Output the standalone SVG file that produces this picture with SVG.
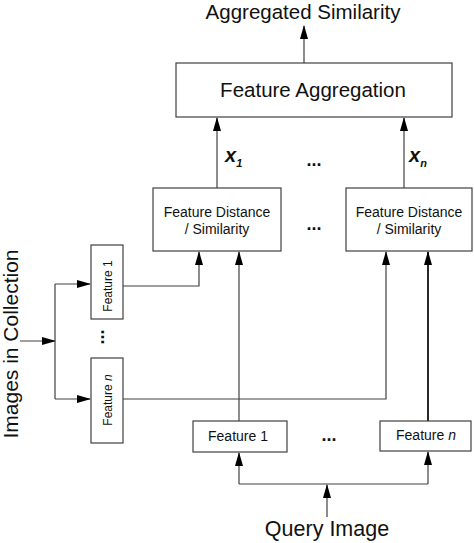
<svg xmlns="http://www.w3.org/2000/svg" width="474" height="543" viewBox="0 0 474 543">
<defs>
<marker id="ah" markerWidth="14" markerHeight="10" refX="13" refY="4" orient="auto" markerUnits="userSpaceOnUse">
<path d="M0,0 L14,4 L0,8 Z" fill="#000"/>
</marker>
<style>
.box{fill:#fff;stroke:#404040;stroke-width:1.2}
.ln{fill:none;stroke:#404040;stroke-width:1.2}
.ar{fill:none;stroke:#404040;stroke-width:1.2;marker-end:url(#ah)}
text{font-family:"Liberation Sans",Arial,sans-serif;fill:#111}
.s{font-size:14px}
.r{font-size:12px}
.m{font-size:20.5px}
.l{font-size:21.5px}
.c{font-size:21px}
.x{font-size:20px;font-weight:bold;font-style:italic}
.d{font-size:18px;font-weight:bold}
</style>
</defs>
<rect width="474" height="543" fill="#fff"/>
<g id="connectors">
<line class="ar" x1="304" y1="63" x2="304" y2="26"/>
<line class="ar" x1="217" y1="188" x2="217" y2="118"/>
<line class="ar" x1="404" y1="188" x2="404" y2="118"/>
<line class="ar" x1="20" y1="341" x2="55" y2="341"/>
<line class="ln" x1="55" y1="284" x2="55" y2="399"/>
<line class="ar" x1="55" y1="284" x2="90" y2="284"/>
<line class="ar" x1="55" y1="399" x2="90" y2="399"/>
<polyline class="ar" points="123,286 199,286 199,252"/>
<polyline class="ar" points="123,399 386,399 386,252"/>
<line class="ar" x1="239" y1="421" x2="239" y2="252"/>
<line class="ar" x1="428" y1="421" x2="428" y2="252" style="stroke:#111;stroke-width:1.8"/>
<polyline class="ln" points="239,484 428,484"/>
<line class="ar" x1="239" y1="484" x2="239" y2="453"/>
<line class="ar" x1="428" y1="484" x2="428" y2="452"/>
<line class="ar" x1="327" y1="517" x2="327" y2="485"/>
</g>
<g id="out-label"><text class="m" x="303" y="19" text-anchor="middle">Aggregated Similarity</text></g>
<g id="aggregation"><rect class="box" x="176" y="63" width="276" height="54"/><text class="m" x="313" y="97" text-anchor="middle">Feature Aggregation</text></g>
<g id="x-labels">
<text class="x" x="225" y="162">x<tspan font-size="11" dy="5">1</tspan></text>
<text class="x" x="409" y="162">x<tspan font-size="11" dy="5">n</tspan></text>
<text class="d" x="314" y="166" text-anchor="middle">...</text>
</g>
<g id="dist1"><rect class="box" x="153" y="188" width="128" height="63"/><text class="s" x="217" y="217" text-anchor="middle">Feature Distance</text><text class="s" x="217" y="234" text-anchor="middle">/ Similarity</text></g>
<g id="dots-dist"><text class="d" x="314" y="230" text-anchor="middle">...</text></g>
<g id="distn"><rect class="box" x="346" y="188" width="126" height="63"/><text class="s" x="409" y="217" text-anchor="middle">Feature Distance</text><text class="s" x="409" y="234" text-anchor="middle">/ Similarity</text></g>
<g id="coll-label"><text class="c" transform="translate(17.5,344) rotate(-90)" text-anchor="middle">Images in Collection</text></g>
<g id="cfeat1"><rect class="box" x="91" y="245" width="32" height="74"/><text class="r" transform="translate(112,286) rotate(-90)" text-anchor="middle">Feature 1</text></g>
<g id="cdots"><text class="d" transform="translate(104,337) rotate(-90)" text-anchor="middle">...</text></g>
<g id="cfeatn"><rect class="box" x="91" y="358" width="32" height="85"/><text class="r" transform="translate(112,400) rotate(-90)" text-anchor="middle">Feature <tspan font-style="italic">n</tspan></text></g>
<g id="qfeat1"><rect class="box" x="193" y="421" width="94" height="31"/><text class="s" x="238" y="441" text-anchor="middle">Feature 1</text></g>
<g id="qdots"><text class="d" x="329" y="441" text-anchor="middle">...</text></g>
<g id="qfeatn"><rect class="box" x="380" y="421" width="91" height="30"/><text class="s" x="426" y="440" text-anchor="middle">Feature <tspan font-style="italic">n</tspan></text></g>
<g id="query-label"><text class="l" x="327" y="536" text-anchor="middle">Query Image</text></g>
</svg>
